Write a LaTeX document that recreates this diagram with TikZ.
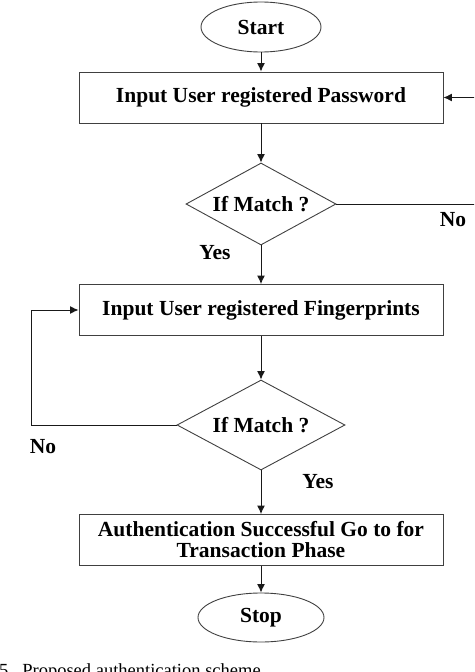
\documentclass[tikz,border=0pt]{standalone}
\usepackage{fontspec}
\setmainfont{Liberation Serif}
\usetikzlibrary{shapes.geometric,arrows.meta}

\tikzset{
  every node/.style={font=\fontsize{21.5}{21}\selectfont\bfseries},
  terminal/.style={draw=black!75, ellipse, line width=0.9pt, inner sep=0pt},
  process/.style={draw=black!75, rectangle, line width=0.9pt, minimum width=364pt, minimum height=51pt, inner sep=0pt, align=center},
  decision/.style={draw=black!75, diamond, line width=0.9pt, inner sep=0pt, aspect=1.83},
  flow/.style={draw=black!90, line width=1pt, -{Latex[length=8.5pt,width=8pt]}},
}

\begin{document}
\begin{tikzpicture}[x=1pt,y=-1pt]
\useasboundingbox (0,0) rectangle (474,672);
\clip (0,0) rectangle (474,672);
\node[terminal, minimum width=120pt, minimum height=50pt] (start) at (261,27) {Start};
\node[process] (password) at (261,97.5) {Input User registered Password};
\node[decision, minimum width=150pt, minimum height=82pt] (match1) at (261,204) {If Match ?};
\node[process] (finger) at (261,310) {Input User registered Fingerprints};
\node[decision, minimum width=168pt, minimum height=90pt] (match2) at (261,425) {If Match ?};
\node[process] (success) at (261,540) {Authentication Successful Go to for\\Transaction Phase};
\node[terminal, minimum width=126pt, minimum height=49pt] (stop) at (261,617.5) {Stop};

% labels
\node (no1) at (453,220) {No};
\node (yes1) at (215,253) {Yes};
\node (no2) at (43,447) {No};
\node (yes2) at (318,482) {Yes};

\coordinate (noturn) at (490,204);
\coordinate (retry) at (31,425);

\draw[flow] (start) -- (password);
\draw[flow] (password) -- (match1);
\draw[flow] (match1) -- (finger);
\draw[flow] (finger) -- (match2);
\draw[flow] (match2) -- (success);
\draw[flow] (success) -- (stop);
\draw[flow] (match1.east) -- (noturn) |- (password.east);
\draw[flow] (match2.west) -- (retry) |- (finger.west);

\node[font=\fontsize{18.5}{20}\selectfont, anchor=base west, inner sep=0pt] (caption) at (-1,676) {5.\ \ Proposed authentication scheme};
\end{tikzpicture}
\end{document}
